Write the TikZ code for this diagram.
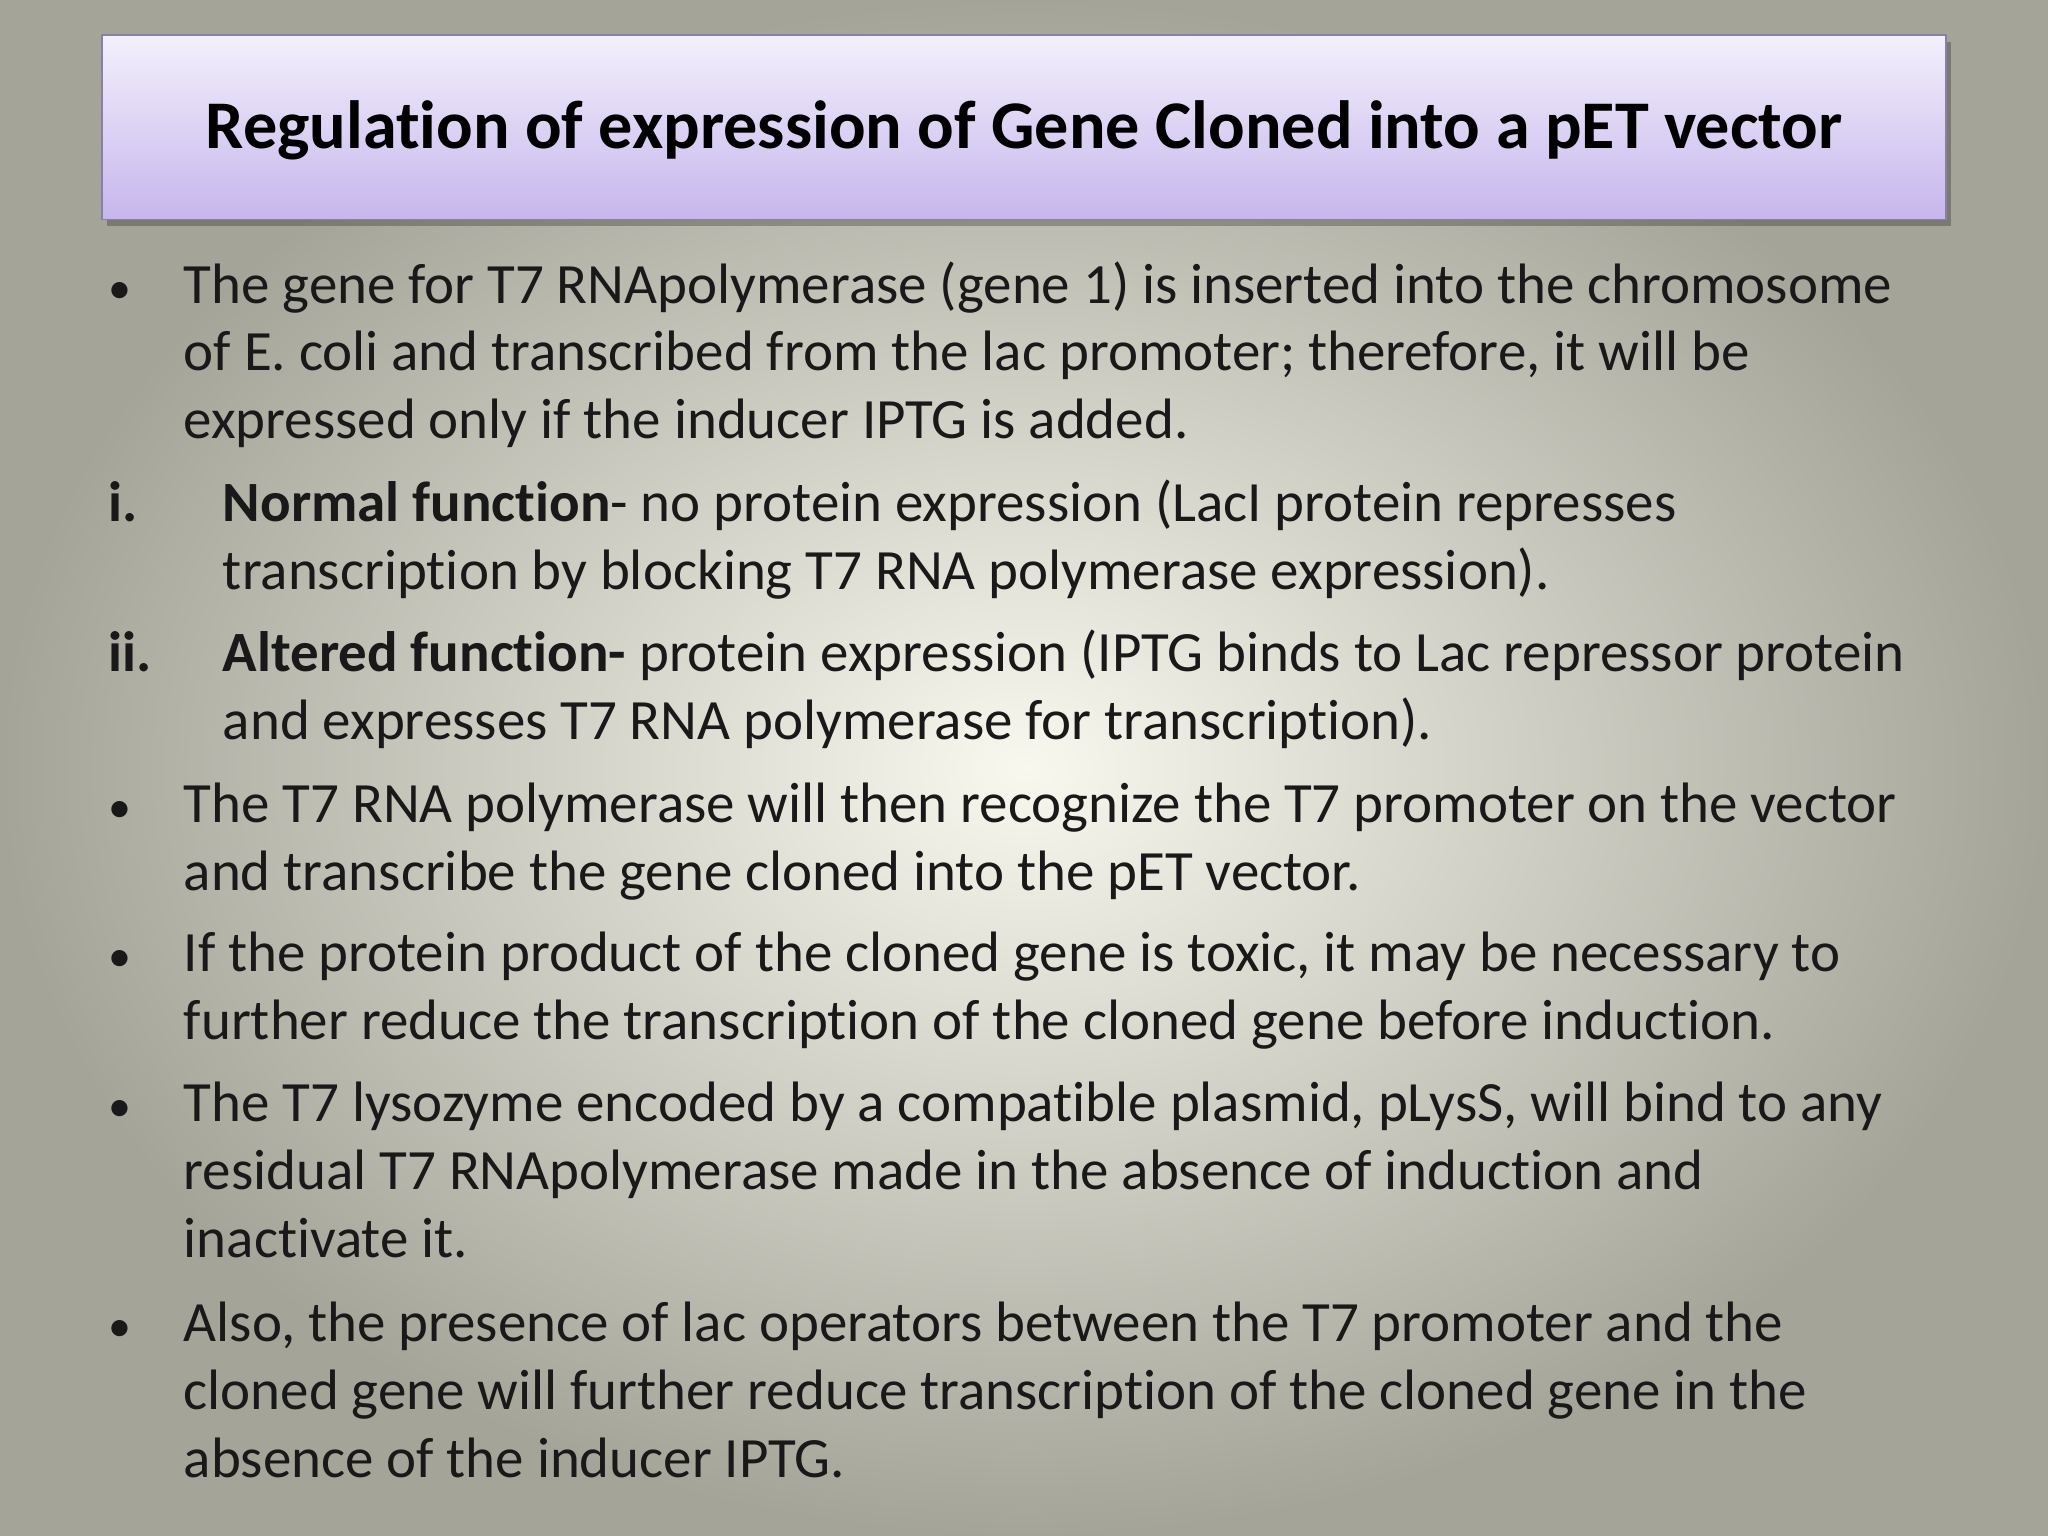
\documentclass[tikz,border=0pt]{standalone}
\usepackage{fontspec}
\setmainfont[Ligatures=NoCommon]{Carlito}
\begin{document}
\begin{tikzpicture}[x=0.01cm,y=-0.01cm,
  ln/.style={anchor=base west,inner sep=0pt,font=\fontsize{12.4}{14}\selectfont,text=black!90},
  bul/.style={anchor=base west,inner sep=0pt,font=\fontsize{12.4}{14}\selectfont,text=black!90}]
\definecolor{bgc}{HTML}{F9F8EE}\definecolor{bge}{HTML}{A4A499}
\useasboundingbox (0,0) rectangle (1568,1176);
\shade[inner color=bgc,outer color=bge] (0,0) rectangle (1568,1176);
\definecolor{tt}{HTML}{F3F0FC}\definecolor{tb}{HTML}{C6B6EC}\definecolor{tbd}{HTML}{8A7FA8}
\fill[black,opacity=0.25] (82,32) rectangle (1494,173);
\shade[top color=tt,bottom color=tb,draw=tbd] (78,27) rectangle (1490,168);
\node[font=\fontsize{14.85}{18}\selectfont\bfseries] (title) at (784,100) {Regulation of expression of Gene Cloned into a pET vector};
\foreach \y/\n in {232/p1,630/p2,744/p3,859/p4,1027/p5}{\node[bul] (\n) at (82,\y) {\fontsize{10}{12}\selectfont•};}
\node[bul] (bi) at (82,399) {\textbf{i.}};
\node[bul] (bii) at (82,514) {\textbf{ii.}};
\node[ln] (a1) at (140,232) {The gene for T7 RNApolymerase (gene 1) is inserted into the chromosome};
\node[ln] (a2) at (140,284) {of E. coli and transcribed from the lac promoter; therefore, it will be};
\node[ln] (a3) at (140,336) {expressed only if the inducer IPTG is added.};
\node[ln] (c1) at (170,399) {\textbf{Normal function}- no protein expression (LacI protein represses};
\node[ln] (c2) at (170,451) {transcription by blocking T7 RNA polymerase expression).};
\node[ln] (d1) at (170,514) {\textbf{Altered function-} protein expression (IPTG binds to Lac repressor protein};
\node[ln] (d2) at (170,566) {and expresses T7 RNA polymerase for transcription).};
\node[ln] (e1) at (140,630) {The T7 RNA polymerase will then recognize the T7 promoter on the vector};
\node[ln] (e2) at (140,682) {and transcribe the gene cloned into the pET vector.};
\node[ln] (f1) at (140,744) {If the protein product of the cloned gene is toxic, it may be necessary to};
\node[ln] (f2) at (140,796) {further reduce the transcription of the cloned gene before induction.};
\node[ln] (g1) at (140,859) {The T7 lysozyme encoded by a compatible plasmid, pLysS, will bind to any};
\node[ln] (g2) at (140,911) {residual T7 RNApolymerase made in the absence of induction and};
\node[ln] (g3) at (140,963) {inactivate it.};
\node[ln] (h1) at (140,1027) {Also, the presence of lac operators between the T7 promoter and the};
\node[ln] (h2) at (140,1079) {cloned gene will further reduce transcription of the cloned gene in the};
\node[ln] (h3) at (140,1131) {absence of the inducer IPTG.};
\end{tikzpicture}
\end{document}
